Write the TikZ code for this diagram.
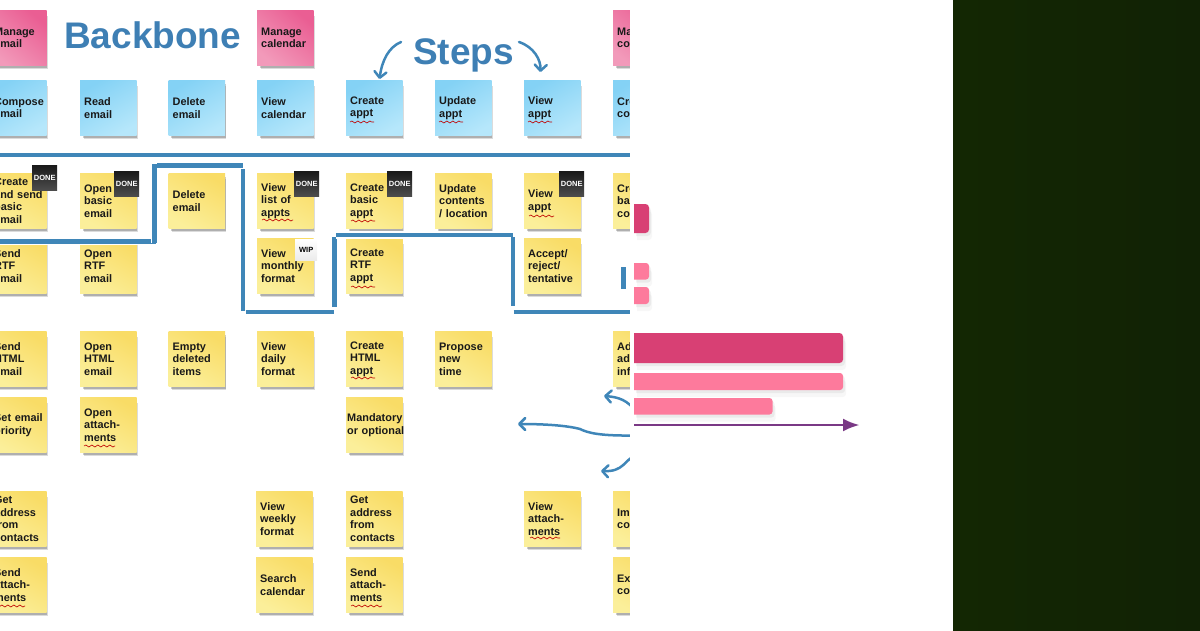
\documentclass[tikz,border=0pt]{standalone}
\usepackage{fontspec}
\setmainfont{Liberation Sans}
\usepackage{xcolor}
\usetikzlibrary{arrows.meta,shadows,decorations.pathmorphing}
\definecolor{cutblue}{HTML}{3F86B8}
\definecolor{titleblue}{HTML}{3E7FB4}
\definecolor{darkpink}{HTML}{D84074}
\definecolor{lightpink}{HTML}{FD7A9C}
\definecolor{purpleline}{HTML}{7A3985}
\definecolor{panelleft}{HTML}{132703}
\definecolor{panelright}{HTML}{112205}
\definecolor{pinkdeep}{HTML}{EA5E93}
\definecolor{pinksoft}{HTML}{F29ABA}
\definecolor{bluedeep}{HTML}{84D2F5}
\definecolor{bluesoft}{HTML}{B6E7FB}
\definecolor{yellowdeep}{HTML}{F9DC66}
\definecolor{yellowsoft}{HTML}{FBEF9A}
\lefthyphenmin=62

\begin{document}
\begin{tikzpicture}[
    x=1pt, y=-1pt,
    every node/.style={font=\bfseries, text=black!90},
    sticky/.style={
        anchor=north west, minimum width=56.5pt, minimum height=55.5pt,
        text width=48.5pt, inner xsep=4pt, inner ysep=0pt, align=left,
        font=\fontsize{10.9}{12.5}\selectfont\bfseries,
        general shadow={shadow xshift=2.5pt, shadow yshift=-4.5pt, shadow scale=.95, fill=black, opacity=.14},
        general shadow={shadow xshift=1.5pt, shadow yshift=-3pt, shadow scale=.97, fill=black, opacity=.2}
    },
    pinknote/.style={sticky, top color=pinkdeep, bottom color=pinksoft, shading angle=-40},
    bluenote/.style={sticky, top color=bluesoft, bottom color=bluedeep, shading angle=-150},
    yellownote/.style={sticky, top color=yellowdeep, bottom color=yellowsoft, shading angle=-30},
    badge/.style={
        anchor=north west, minimum size=25pt, inner sep=0pt,
        font=\fontsize{7.5}{8}\selectfont\bfseries, text=white,
        top color=black!90, bottom color=black!70
    },
    wipbadge/.style={
        anchor=north west, minimum width=22pt, minimum height=21pt, inner sep=0pt,
        font=\fontsize{7.5}{8}\selectfont\bfseries, text=black,
        top color=white, bottom color=black!8
    },
    title/.style={anchor=base west, inner sep=0pt, text=titleblue, font=\fontsize{37}{40}\selectfont\bfseries},
    cutline/.style={
        draw=cutblue, line width=4.2pt,
        preaction={draw=white, line width=7.5pt}
    },
    inkarrow/.style={
        draw=cutblue, line width=2.5pt, line cap=round,
        -{Straight Barb[length=6pt,width=12pt,round]}
    },
    squiggle/.style={
        draw=red!75!black, line width=.6pt,
        decorate, decoration={snake, amplitude=1pt, segment length=6pt}
    },
    softbar/.style={
        drop shadow={shadow xshift=2pt, shadow yshift=-3pt, fill=black, opacity=.05},
        drop shadow={shadow xshift=3pt, shadow yshift=-7pt, fill=black, opacity=.03}
    }
]
    \useasboundingbox (0,0) rectangle (1200,630);

    \node[pinknote] (manageemail) at (-10,10) {Manage\\email};
    \node[pinknote] (managecalendar) at (257,10) {Manage\\calendar};
    \node[pinknote] (managecontacts) at (613,10) {Manage\\contacts};

    \node[title] (backbone) at (64,48) {Backbone};
    \node[title] (steps) at (413,64) {Steps};

    \node[bluenote] (composeemail) at (-10,80) {Compose\\email};
    \node[bluenote] (reademail) at (80,80) {Read\\email};
    \node[bluenote] (deleteemail) at (168.5,80) {Delete\\email};
    \node[bluenote] (viewcalendar) at (257,80) {View\\calendar};
    \node[bluenote] (createappt) at (346,80) {Create\\appt};
    \node[bluenote] (updateappt) at (435,80) {Update\\appt};
    \node[bluenote] (viewappt) at (524,80) {View\\appt};
    \node[bluenote] (createcontact) at (613,80) {Create\\contact};

    \node[yellownote] (createsend) at (-10,173) {Create\\and~send\\basic\\email};
    \node[yellownote] (openbasic) at (80,173) {Open\\basic\\email};
    \node[yellownote] (deletenote) at (168.5,173) {Delete\\email};
    \node[yellownote] (listappts) at (257,173) {View\\list of\\appts};
    \node[yellownote] (basicappt) at (346,173) {Create\\basic\\appt};
    \node[yellownote] (updatecontents) at (435,173) {Update\\contents\\/~location};
    \node[yellownote] (viewbasic) at (524,173) {View\\appt};
    \node[yellownote] (basiccontact) at (613,173) {Create\\basic\\contact};

    \node[yellownote] (sendrtf) at (-10,238) {Send\\RTF\\email};
    \node[yellownote] (openrtf) at (80,238) {Open\\RTF\\email};
    \node[yellownote] (monthly) at (257,238) {View\\monthly\\format};
    \node[yellownote] (rtfappt) at (346,238) {Create\\RTF\\appt};
    \node[yellownote] (acceptreject) at (524,238) {Accept/\\reject/\\tentative};

    \node[yellownote] (sendhtml) at (-10,331) {Send\\HTML\\email};
    \node[yellownote] (openhtml) at (80,331) {Open\\HTML\\email};
    \node[yellownote] (emptydeleted) at (168.5,331) {Empty\\deleted\\items};
    \node[yellownote] (daily) at (257,331) {View\\daily\\format};
    \node[yellownote] (htmlappt) at (346,331) {Create\\HTML\\appt};
    \node[yellownote] (proposetime) at (435,331) {Propose\\new\\time};
    \node[yellownote] (addinfo) at (613,331) {Add\\address\\info};

    \node[yellownote] (priority) at (-10,397) {Set~email\\priority};
    \node[yellownote] (openattach) at (80,397) {Open\\attach-\\ments};
    \node[yellownote, text width=54.5pt, inner xsep=1pt] (mandatory) at (346,397) {Mandatory\\or~optional};

    \node[yellownote] (emailaddress) at (-10,491) {Get\\address\\from\\contacts};
    \node[yellownote] (weekly) at (256,491) {View\\weekly\\format};
    \node[yellownote] (apptaddress) at (346,491) {Get\\address\\from\\contacts};
    \node[yellownote] (viewattach) at (524,491) {View\\attach-\\ments};
    \node[yellownote] (importcontacts) at (613,491) {Import\\contacts};

    \node[yellownote] (sendattach) at (-10,557) {Send\\attach-\\ments};
    \node[yellownote] (searchcalendar) at (256,557) {Search\\calendar};
    \node[yellownote] (apptattach) at (346,557) {Send\\attach-\\ments};
    \node[yellownote] (exportcontacts) at (613,557) {Export\\contacts};

    \draw[squiggle] (262,220) -- (293,220);
    \draw[squiggle] (350,122) -- (374,122);
    \draw[squiggle] (439,122) -- (463,122);
    \draw[squiggle] (528,122) -- (552,122);
    \draw[squiggle] (351,221) -- (375,221);
    \draw[squiggle] (529,216) -- (554,216);
    \draw[squiggle] (351,287) -- (375,287);
    \draw[squiggle] (351,378) -- (375,378);
    \draw[squiggle] (84,446) -- (115,446);
    \draw[squiggle] (-6,606) -- (25,606);
    \draw[squiggle] (351,606) -- (382,606);
    \draw[squiggle] (530,538) -- (560,538);

    \node[badge] (donecreate) at (32,165) {DONE};
    \node[badge] (doneopen) at (114,171) {DONE};
    \node[badge] (donelist) at (294,171) {DONE};
    \node[badge] (donebasic) at (387,171) {DONE};
    \node[badge] (doneview) at (559,171) {DONE};
    \node[wipbadge] (wipmonthly) at (295,239) {WIP};

    \draw[cutline] (-5,155) -- (640,155);
    \draw[cutline] (-5,241.5) -- (156,241.5);
    \draw[cutline] (154.5,243) -- (154.5,164);
    \draw[cutline] (157,165.5) -- (243,165.5);
    \draw[cutline] (243,169) -- (243,311);
    \draw[cutline] (245.5,312) -- (334,312);
    \draw[cutline] (334.5,307) -- (334.5,237);
    \draw[cutline] (336,235) -- (513,235);
    \draw[cutline] (512.7,237) -- (512.7,306);
    \draw[cutline] (513.5,312) -- (640,312);
    \draw[draw=cutblue, line width=5pt] (623.5,267) -- (623.5,289);

    \coordinate (stepsleft) at (401,42);
    \coordinate (stepsright) at (519,42);
    \draw[inkarrow, shorten >=1pt] (stepsleft) .. controls (389,47) and (382,60) .. (createappt.80);
    \draw[inkarrow, shorten >=8pt] (stepsright) .. controls (534,47) and (541,60) .. (viewappt.114);

    \coordinate (inkupper) at (636,412);
    \coordinate (inkmiddle) at (636,435.5);
    \coordinate (inklower) at (636,455);
    \coordinate (mandatorytip) at (604,396);
    \coordinate (middletip) at (518,424);
    \coordinate (lowertip) at (601,471);
    \draw[inkarrow] (inkupper) .. controls (628,400) and (618,397) .. (mandatorytip);
    \draw[inkarrow] (inkmiddle) .. controls (600,436) and (588,433) .. (580,429)
        .. controls (565,425) and (540,424) .. (middletip);
    \draw[inkarrow] (inklower) .. controls (624,460) and (624,472) .. (lowertip);

    \fill[white] (630,0) rectangle (953,630);
    \shade[left color=panelleft, right color=panelright] (953,0) rectangle (1200,630);

    \fill[darkpink, softbar] (634,204) [rounded corners=3.5pt] -- (649,204) -- (649,233) [sharp corners] -- (634,233) -- cycle;
    \fill[lightpink, softbar] (634,263) [rounded corners=3pt] -- (649,263) -- (649,279.5) [sharp corners] -- (634,279.5) -- cycle;
    \fill[lightpink, softbar] (634,287) [rounded corners=3pt] -- (649,287) -- (649,304) [sharp corners] -- (634,304) -- cycle;
    \fill[darkpink, softbar] (634,333) [rounded corners=3.5pt] -- (843,333) -- (843,363) [sharp corners] -- (634,363) -- cycle;
    \fill[lightpink, softbar] (634,373) [rounded corners=3pt] -- (843,373) -- (843,390) [sharp corners] -- (634,390) -- cycle;
    \fill[lightpink, softbar] (634,398) [rounded corners=3pt] -- (772.5,398) -- (772.5,414.5) [sharp corners] -- (634,414.5) -- cycle;

    \coordinate (trackstart) at (634,425);
    \coordinate (trackend) at (859.5,425);
    \draw[purpleline, line width=2.4pt, -{Latex[length=16.5pt,width=13pt]}] (trackstart) -- (trackend);
\end{tikzpicture}
\end{document}
